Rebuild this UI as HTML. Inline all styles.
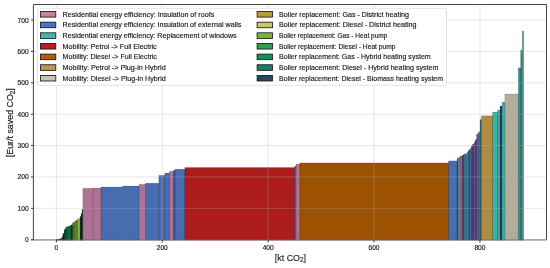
<!DOCTYPE html>
<html><head><meta charset="utf-8"><style>
html,body{margin:0;padding:0;background:#fff;}
svg{display:block;filter:blur(0.3px);}
text{font-family:"Liberation Sans",sans-serif;}
</style></head><body>
<svg width="550" height="268" viewBox="0 0 550 268">
<rect width="550" height="268" fill="#fff"/>
<line x1="31" x2="546.5" y1="239.8" y2="239.8" stroke="#a8a8a8" stroke-width="1.8"/>
<g>
<rect x="56.40" y="239.40" width="2.10" height="0.80" fill="#3a3a20"/>
<rect x="58.00" y="239.00" width="2.50" height="1.20" fill="#4a4a22"/>
<rect x="60.00" y="238.20" width="2.50" height="2.00" fill="#505028"/>
<rect x="62.00" y="236.50" width="1.30" height="3.70" fill="#303820"/>
<rect x="62.80" y="233.50" width="1.70" height="6.70" fill="#1a3020"/>
<rect x="64.00" y="229.50" width="2.00" height="10.70" fill="#0d4a30"/>
<rect x="65.50" y="227.20" width="2.00" height="13.00" fill="#0f5c36"/>
<rect x="67.00" y="226.50" width="2.00" height="13.70" fill="#107444"/>
<rect x="68.50" y="226.00" width="2.00" height="14.20" fill="#168448"/>
<rect x="70.00" y="225.50" width="1.50" height="14.70" fill="#0e6a40"/>
<rect x="71.00" y="224.80" width="2.00" height="15.40" fill="#0a3a28"/>
<rect x="72.50" y="222.50" width="2.50" height="17.70" fill="#4a7a30"/>
<rect x="74.50" y="221.00" width="2.00" height="19.20" fill="#6a9a3a"/>
<rect x="76.00" y="220.00" width="2.00" height="20.20" fill="#5a8a30"/>
<rect x="77.50" y="218.50" width="3.00" height="21.70" fill="#84b848"/>
<rect x="80.00" y="216.50" width="1.50" height="23.70" fill="#1c3418"/>
<rect x="81.00" y="213.50" width="1.40" height="26.70" fill="#163a1e"/>
<rect x="81.90" y="209.50" width="1.40" height="30.70" fill="#104226"/>
<rect x="82.80" y="188.30" width="11.00" height="51.90" fill="#ae7394"/>
<rect x="93.30" y="188.00" width="8.20" height="52.20" fill="#ae7394"/>
<rect x="101.00" y="187.00" width="21.90" height="53.20" fill="#486cb0"/>
<rect x="122.40" y="186.00" width="17.20" height="54.20" fill="#486cb0"/>
<rect x="139.10" y="184.30" width="7.00" height="55.90" fill="#ae7394"/>
<rect x="145.60" y="183.20" width="13.70" height="57.00" fill="#486cb0"/>
<rect x="158.80" y="175.30" width="6.50" height="64.90" fill="#486cb0"/>
<rect x="164.80" y="173.00" width="5.10" height="67.20" fill="#486cb0"/>
<rect x="169.40" y="171.30" width="4.50" height="68.90" fill="#ae7394"/>
<rect x="173.40" y="170.30" width="2.10" height="69.90" fill="#3a5aa0"/>
<rect x="175.00" y="169.20" width="10.30" height="71.00" fill="#486cb0"/>
<rect x="184.80" y="167.50" width="110.30" height="72.70" fill="#ac1c1c"/>
<rect x="294.60" y="166.00" width="1.90" height="74.20" fill="#486cb0"/>
<rect x="296.00" y="164.10" width="4.30" height="76.10" fill="#ae7394"/>
<rect x="299.80" y="162.90" width="149.20" height="77.30" fill="#9c5200"/>
<rect x="448.50" y="160.90" width="9.20" height="79.30" fill="#486cb0"/>
<rect x="457.20" y="158.20" width="1.50" height="82.00" fill="#5a2a48"/>
<rect x="458.20" y="157.40" width="2.30" height="82.80" fill="#3cb0a0"/>
<rect x="460.00" y="155.90" width="3.00" height="84.30" fill="#a05a80"/>
<rect x="462.50" y="155.00" width="1.50" height="85.20" fill="#2c3c70"/>
<rect x="463.50" y="154.20" width="1.60" height="86.00" fill="#30a088"/>
<rect x="464.60" y="153.80" width="2.90" height="86.40" fill="#486cb0"/>
<rect x="467.00" y="152.00" width="1.50" height="88.20" fill="#ae7394"/>
<rect x="468.00" y="150.60" width="2.00" height="89.60" fill="#2a7080"/>
<rect x="469.50" y="148.80" width="2.00" height="91.40" fill="#486cb0"/>
<rect x="471.00" y="146.30" width="2.00" height="93.90" fill="#6a4a78"/>
<rect x="472.50" y="144.00" width="2.00" height="96.20" fill="#3a5090"/>
<rect x="474.00" y="142.00" width="1.80" height="98.20" fill="#8a5a88"/>
<rect x="475.30" y="139.50" width="1.70" height="100.70" fill="#304080"/>
<rect x="476.50" y="134.00" width="2.40" height="106.20" fill="#486cb0"/>
<rect x="478.40" y="131.80" width="2.10" height="108.40" fill="#6a5080"/>
<rect x="480.00" y="119.60" width="1.80" height="120.60" fill="#205a70"/>
<rect x="481.30" y="115.80" width="11.70" height="124.40" fill="#ae8c40"/>
<rect x="492.50" y="112.00" width="5.50" height="128.20" fill="#3cb0a0"/>
<rect x="497.50" y="110.00" width="3.00" height="130.20" fill="#3cb0a0"/>
<rect x="500.00" y="106.00" width="2.50" height="134.20" fill="#2c3c70"/>
<rect x="502.00" y="102.10" width="3.30" height="138.10" fill="#3cb0a0"/>
<rect x="504.80" y="94.00" width="14.00" height="146.20" fill="#b4ab9a"/>
<rect x="518.30" y="67.80" width="2.80" height="172.40" fill="#2e928a"/>
<rect x="520.60" y="50.10" width="2.10" height="190.10" fill="#2e928a"/>
<rect x="522.20" y="31.00" width="1.60" height="209.20" fill="#5e9890"/>
<g fill="none" stroke="#000" stroke-opacity="0.22" stroke-width="0.5"><path d="M56.40,240.20V239.40H58.00V240.20"/>
<path d="M58.00,240.20V239.00H60.00V240.20"/>
<path d="M60.00,240.20V238.20H62.00V240.20"/>
<path d="M62.00,240.20V236.50H62.80V240.20"/>
<path d="M62.80,240.20V233.50H64.00V240.20"/>
<path d="M64.00,240.20V229.50H65.50V240.20"/>
<path d="M65.50,240.20V227.20H67.00V240.20"/>
<path d="M67.00,240.20V226.50H68.50V240.20"/>
<path d="M68.50,240.20V226.00H70.00V240.20"/>
<path d="M70.00,240.20V225.50H71.00V240.20"/>
<path d="M71.00,240.20V224.80H72.50V240.20"/>
<path d="M72.50,240.20V222.50H74.50V240.20"/>
<path d="M74.50,240.20V221.00H76.00V240.20"/>
<path d="M76.00,240.20V220.00H77.50V240.20"/>
<path d="M77.50,240.20V218.50H80.00V240.20"/>
<path d="M80.00,240.20V216.50H81.00V240.20"/>
<path d="M81.00,240.20V213.50H81.90V240.20"/>
<path d="M81.90,240.20V209.50H82.80V240.20"/>
<path d="M82.80,240.20V188.30H93.30V240.20"/>
<path d="M93.30,240.20V188.00H101.00V240.20"/>
<path d="M101.00,240.20V187.00H122.40"/>
<path d="M122.40,186.00H139.10V240.20"/>
<path d="M139.10,240.20V184.30H145.60V240.20"/>
<path d="M145.60,240.20V183.20H158.80V240.20"/>
<path d="M158.80,240.20V175.30H164.80V240.20"/>
<path d="M164.80,240.20V173.00H169.40V240.20"/>
<path d="M169.40,240.20V171.30H173.40V240.20"/>
<path d="M173.40,240.20V170.30H175.00V240.20"/>
<path d="M175.00,240.20V169.20H184.80V240.20"/>
<path d="M184.80,240.20V167.50H294.60V240.20"/>
<path d="M294.60,240.20V166.00H296.00V240.20"/>
<path d="M296.00,240.20V164.10H299.80V240.20"/>
<path d="M299.80,240.20V162.90H448.50V240.20"/>
<path d="M448.50,240.20V160.90H457.20V240.20"/>
<path d="M457.20,240.20V158.20H458.20V240.20"/>
<path d="M458.20,240.20V157.40H460.00V240.20"/>
<path d="M460.00,240.20V155.90H462.50V240.20"/>
<path d="M462.50,240.20V155.00H463.50V240.20"/>
<path d="M463.50,240.20V154.20H464.60V240.20"/>
<path d="M464.60,240.20V153.80H467.00V240.20"/>
<path d="M467.00,240.20V152.00H468.00V240.20"/>
<path d="M468.00,240.20V150.60H469.50V240.20"/>
<path d="M469.50,240.20V148.80H471.00V240.20"/>
<path d="M471.00,240.20V146.30H472.50V240.20"/>
<path d="M472.50,240.20V144.00H474.00V240.20"/>
<path d="M474.00,240.20V142.00H475.30V240.20"/>
<path d="M475.30,240.20V139.50H476.50V240.20"/>
<path d="M476.50,240.20V134.00H478.40V240.20"/>
<path d="M478.40,240.20V131.80H480.00V240.20"/>
<path d="M480.00,240.20V119.60H481.30V240.20"/>
<path d="M481.30,240.20V115.80H492.50V240.20"/>
<path d="M492.50,240.20V112.00H497.50V240.20"/>
<path d="M497.50,240.20V110.00H500.00V240.20"/>
<path d="M500.00,240.20V106.00H502.00V240.20"/>
<path d="M502.00,240.20V102.10H504.80V240.20"/>
<path d="M504.80,240.20V94.00H518.30V240.20"/>
<path d="M518.30,240.20V67.80H520.60V240.20"/>
<path d="M520.60,240.20V50.10H522.20V240.20"/>
<path d="M522.20,240.20V31.00H523.80V240.20"/></g>
<line x1="56.4" x2="523.8" y1="239.70" y2="239.70" stroke="#000" stroke-opacity="0.3" stroke-width="0.9"/>
</g>
<g stroke="#b0b0b0" stroke-width="0.9" stroke-opacity="0.35">
<line x1="33" x2="546.3" y1="239.73" y2="239.73"/>
<line x1="33" x2="546.3" y1="208.34" y2="208.34"/>
<line x1="33" x2="546.3" y1="176.96" y2="176.96"/>
<line x1="33" x2="546.3" y1="145.57" y2="145.57"/>
<line x1="33" x2="546.3" y1="114.19" y2="114.19"/>
<line x1="33" x2="546.3" y1="82.80" y2="82.80"/>
<line x1="33" x2="546.3" y1="51.41" y2="51.41"/>
<line x1="33" x2="546.3" y1="20.03" y2="20.03"/>
<line y1="4.4" y2="239.6" x1="56.40" x2="56.40"/>
<line y1="4.4" y2="239.6" x1="162.28" x2="162.28"/>
<line y1="4.4" y2="239.6" x1="268.16" x2="268.16"/>
<line y1="4.4" y2="239.6" x1="374.04" x2="374.04"/>
<line y1="4.4" y2="239.6" x1="479.92" x2="479.92"/>
</g>
<g stroke="#383838" stroke-width="1">
<line x1="31" x2="33.4" y1="239.73" y2="239.73"/>
<line x1="31" x2="33.4" y1="208.34" y2="208.34"/>
<line x1="31" x2="33.4" y1="176.96" y2="176.96"/>
<line x1="31" x2="33.4" y1="145.57" y2="145.57"/>
<line x1="31" x2="33.4" y1="114.19" y2="114.19"/>
<line x1="31" x2="33.4" y1="82.80" y2="82.80"/>
<line x1="31" x2="33.4" y1="51.41" y2="51.41"/>
<line x1="31" x2="33.4" y1="20.03" y2="20.03"/>
<line x1="56.40" x2="56.40" y1="239.6" y2="242.5"/>
<line x1="162.28" x2="162.28" y1="239.6" y2="242.5"/>
<line x1="268.16" x2="268.16" y1="239.6" y2="242.5"/>
<line x1="374.04" x2="374.04" y1="239.6" y2="242.5"/>
<line x1="479.92" x2="479.92" y1="239.6" y2="242.5"/>
</g>
<path d="M33.4,239.8V4.5H546.5V239.8" fill="none" stroke="#444" stroke-width="1"/>
<g font-size="6.6" fill="#222" stroke="#222" stroke-width="0.18">
<text x="28.6" y="242.23" text-anchor="end">0</text>
<text x="28.6" y="210.84" text-anchor="end">100</text>
<text x="28.6" y="179.46" text-anchor="end">200</text>
<text x="28.6" y="148.07" text-anchor="end">300</text>
<text x="28.6" y="116.69" text-anchor="end">400</text>
<text x="28.6" y="85.30" text-anchor="end">500</text>
<text x="28.6" y="53.91" text-anchor="end">600</text>
<text x="28.6" y="22.53" text-anchor="end">700</text>
<text x="56.40" y="249.9" text-anchor="middle">0</text>
<text x="162.28" y="249.9" text-anchor="middle">200</text>
<text x="268.16" y="249.9" text-anchor="middle">400</text>
<text x="374.04" y="249.9" text-anchor="middle">600</text>
<text x="479.92" y="249.9" text-anchor="middle">800</text>
</g>
<rect x="37.5" y="8.3" width="409" height="77" rx="1.5" fill="#fff" stroke="#dcdcdc" stroke-width="0.8"/>
<g font-size="7.15" fill="#1a1a1a" stroke="#1a1a1a" stroke-width="0.16">
<rect x="40.4" y="11.50" width="15.4" height="5.6" fill="#c880a8" stroke="#111" stroke-width="0.8"/>
<text x="62.6" y="16.80" textLength="151.7" lengthAdjust="spacingAndGlyphs">Residential energy efficiency: Insulation of roofs</text>
<rect x="40.4" y="22.15" width="15.4" height="5.6" fill="#4a70c8" stroke="#111" stroke-width="0.8"/>
<text x="62.6" y="27.45" textLength="178.8" lengthAdjust="spacingAndGlyphs">Residential energy efficiency: Insulation of external walls</text>
<rect x="40.4" y="32.80" width="15.4" height="5.6" fill="#40b8a8" stroke="#111" stroke-width="0.8"/>
<text x="62.6" y="38.10" textLength="174.1" lengthAdjust="spacingAndGlyphs">Residential energy efficiency: Replacement of windows</text>
<rect x="40.4" y="43.45" width="15.4" height="5.6" fill="#c01c20" stroke="#111" stroke-width="0.8"/>
<text x="62.6" y="48.75" textLength="94.1" lengthAdjust="spacingAndGlyphs">Mobility: Petrol -&gt; Full Electric</text>
<rect x="40.4" y="54.10" width="15.4" height="5.6" fill="#b05c08" stroke="#111" stroke-width="0.8"/>
<text x="62.6" y="59.40" textLength="94.3" lengthAdjust="spacingAndGlyphs">Mobility: Diesel -&gt; Full Electric</text>
<rect x="40.4" y="64.75" width="15.4" height="5.6" fill="#c09848" stroke="#111" stroke-width="0.8"/>
<text x="62.6" y="70.05" textLength="103.1" lengthAdjust="spacingAndGlyphs">Mobility: Petrol -&gt; Plug-in Hybrid</text>
<rect x="40.4" y="75.40" width="15.4" height="5.6" fill="#c8c0b0" stroke="#111" stroke-width="0.8"/>
<text x="62.6" y="80.70" textLength="103.1" lengthAdjust="spacingAndGlyphs">Mobility: Diesel -&gt; Plug-in Hybrid</text>
<rect x="257.1" y="11.50" width="15.4" height="5.6" fill="#c0983c" stroke="#111" stroke-width="0.8"/>
<text x="279.1" y="16.80" textLength="129.8" lengthAdjust="spacingAndGlyphs">Boiler replacement: Gas - District heating</text>
<rect x="257.1" y="22.15" width="15.4" height="5.6" fill="#c8c860" stroke="#111" stroke-width="0.8"/>
<text x="279.1" y="27.45" textLength="137.4" lengthAdjust="spacingAndGlyphs">Boiler replacement: Diesel - District heating</text>
<rect x="257.1" y="32.80" width="15.4" height="5.6" fill="#7cb040" stroke="#111" stroke-width="0.8"/>
<text x="279.1" y="38.10" textLength="108.4" lengthAdjust="spacingAndGlyphs">Boiler replacement: Gas - Heat pump</text>
<rect x="257.1" y="43.45" width="15.4" height="5.6" fill="#30a050" stroke="#111" stroke-width="0.8"/>
<text x="279.1" y="48.75" textLength="116.4" lengthAdjust="spacingAndGlyphs">Boiler replacement: Diesel - Heat pump</text>
<rect x="257.1" y="54.10" width="15.4" height="5.6" fill="#10905c" stroke="#111" stroke-width="0.8"/>
<text x="279.1" y="59.40" textLength="151.6" lengthAdjust="spacingAndGlyphs">Boiler replacement: Gas - Hybrid heating system</text>
<rect x="257.1" y="64.75" width="15.4" height="5.6" fill="#10806c" stroke="#111" stroke-width="0.8"/>
<text x="279.1" y="70.05" textLength="159.3" lengthAdjust="spacingAndGlyphs">Boiler replacement: Diesel - Hybrid heating system</text>
<rect x="257.1" y="75.40" width="15.4" height="5.6" fill="#2c4860" stroke="#111" stroke-width="0.8"/>
<text x="279.1" y="80.70" textLength="164.0" lengthAdjust="spacingAndGlyphs">Boiler replacement: Diesel - Biomass heating system</text>
</g>
<text x="274.7" y="260.9" font-size="9.9" fill="#1e1e1e" stroke="#1e1e1e" stroke-width="0.15" textLength="31.4" lengthAdjust="spacingAndGlyphs">[kt CO<tspan font-size="7" dy="1.5">2</tspan><tspan dy="-1.5">]</tspan></text>
<text transform="translate(12.8,157.2) rotate(-90)" font-size="9.4" fill="#1e1e1e" stroke="#1e1e1e" stroke-width="0.2" textLength="69" lengthAdjust="spacingAndGlyphs">[Eur/t saved CO<tspan font-size="6.6" dy="2.2">2</tspan><tspan dy="-2.2">]</tspan></text>
</svg>
</body></html>
